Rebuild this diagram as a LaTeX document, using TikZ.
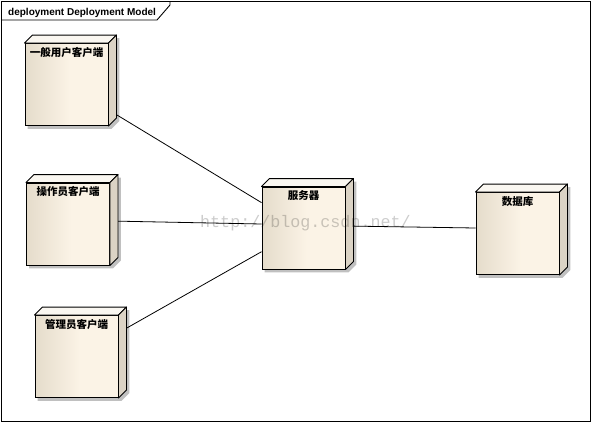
\documentclass[tikz,border=0pt]{standalone}
\usepackage{fontspec}
\setmainfont{Liberation Sans}
\setmonofont{Liberation Mono}
\newfontfamily\cjk{Noto Sans CJK SC}
\usepackage{tikz}
\usetikzlibrary{positioning, backgrounds, calc}
\definecolor{nodeleft}{RGB}{229,220,203}
\definecolor{noderight}{RGB}{251,243,230}
\definecolor{nodeside}{RGB}{219,211,197}
\definecolor{nodetop}{RGB}{250,247,241}
\definecolor{shadowgray}{RGB}{192,192,192}
\pgfdeclarehorizontalshading{devshade}{100bp}{color(0bp)=(nodeleft); color(25bp)=(nodeleft); color(52bp)=(noderight); color(100bp)=(noderight)}
\tikzset{
  devnode/.style={rectangle, draw=black, line width=0.9pt, minimum width=83pt, minimum height=82pt, shading=devshade, inner sep=0pt},
  devlabel/.style={anchor=north, font=\cjk\bfseries\fontsize{10.5}{12}\selectfont, inner sep=4pt},
  face/.style={draw=black, line width=0.9pt, line join=round},
  link/.style={draw=black, line width=0.8pt},
  frame/.style={draw=black, line width=0.9pt},
}

\begin{document}
\begin{tikzpicture}[x=1pt, y=-1pt]
\useasboundingbox (0,0) rectangle (591,423);
\draw[frame] (1,1) rectangle (590,421.5);
\draw[frame] (1,20) -- (157,20) -- (170,5) -- (170,1);
\node[anchor=base west, inner sep=0pt, font=\bfseries\fontsize{10}{12}\selectfont] (title) at (8,15) {deployment Deployment Model};

\node[devnode, label={[devlabel]north:一般用户客户端}] (user) at (66.5,84.5) {};
\node[devnode, label={[devlabel]north:操作员客户端}] (oper) at (68,224) {};
\node[devnode, label={[devlabel]north:管理员客户端}] (admin) at (76.5,356.5) {};
\node[devnode, label={[devlabel]north:服务器}] (server) at (303.5,228) {};
\node[devnode, label={[devlabel]north:数据库}] (db) at (517.5,233.5) {};

\draw[link] (user) -- (server);
\draw[link] ([yshift=3pt]oper.east) -- ([yshift=4pt]server.west);
\draw[link] (admin) -- (server);
\draw[link] ([yshift=2pt]server.east) -- ([yshift=5.5pt]db.west);

\foreach \n in {user,oper,admin,server,db}{
  \begin{pgfonlayer}{background}
    \fill[shadowgray] ($(\n.north west)+(3,3)$) -- ($(\n.north west)+(11,-5)$) -- ($(\n.north east)+(11,-5)$) -- ($(\n.south east)+(11,-5)$) -- ($(\n.south east)+(3,3)$) -- ($(\n.south west)+(3,3)$) -- cycle;
  \end{pgfonlayer}
  \draw[face, fill=nodetop] (\n.north west) -- ++(8,-8) -- ($(\n.north east)+(8,-8)$) -- (\n.north east) -- cycle;
  \draw[face, fill=nodeside] (\n.north east) -- ++(8,-8) -- ($(\n.south east)+(8,-8)$) -- (\n.south east) -- cycle;
}

\node[anchor=base west, inner sep=0pt, font=\ttfamily\fontsize{16.7}{18}\selectfont, text=black, text opacity=0.2] (mark) at (200,227) {http://blog.csdn.net/};
\end{tikzpicture}
\end{document}
